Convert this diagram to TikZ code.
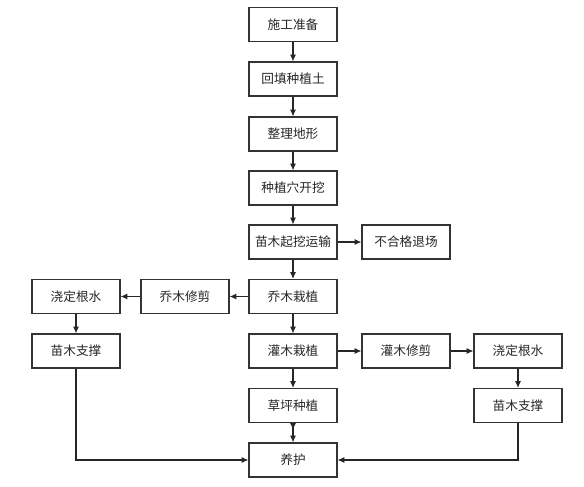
\documentclass[tikz,border=0pt]{standalone}
\usepackage{fontspec}
\setmainfont{Noto Sans CJK SC}
\usetikzlibrary{arrows.meta}

\begin{document}
\begin{tikzpicture}[x=0.75pt,y=-0.75pt,
    stepbox/.style={draw=black!80,line width=0.9pt,minimum width=66pt,minimum height=25.5pt,inner sep=0pt,font=\fontsize{9.5pt}{11pt}\selectfont,text=black!85},
    flow/.style={draw=black!85,line width=0.8pt,-{Latex[length=5pt,width=4.5pt]}}]
    \useasboundingbox (0,0) rectangle (584,486);
    \node[stepbox] (ZB) at (293,24.5) {施工准备};
    \node[stepbox] (HT) at (293,79)   {回填种植土};
    \node[stepbox] (ZL) at (293,134)  {整理地形};
    \node[stepbox] (WK) at (293,188)  {种植穴开挖};
    \node[stepbox] (QW) at (293,242)  {苗木起挖运输};
    \node[stepbox] (TC) at (406,242)  {不合格退场};
    \node[stepbox] (QZ) at (293,296.5) {乔木栽植};
    \node[stepbox] (QX) at (185,296.5) {乔木修剪};
    \node[stepbox] (LJ) at (76,296.5)  {浇定根水};
    \node[stepbox] (LZ) at (76,351)    {苗木支撑};
    \node[stepbox] (GZ) at (293,351)  {灌木栽植};
    \node[stepbox] (GX) at (406,351)  {灌木修剪};
    \node[stepbox] (RJ) at (518,351)  {浇定根水};
    \node[stepbox] (RZ) at (518,405.5) {苗木支撑};
    \node[stepbox] (CP) at (293,405.5) {草坪种植};
    \node[stepbox] (YH) at (293,460)  {养护};

    \draw [flow] (ZB) -- (HT);
    \draw [flow] (HT) -- (ZL);
    \draw [flow] (ZL) -- (WK);
    \draw [flow] (WK) -- (QW);
    \draw [flow] (QW) -- (TC);
    \draw [flow] (QW) -- (QZ);
    \draw [flow] (QZ) -- (QX);
    \draw [flow] (QX) -- (LJ);
    \draw [flow] (LJ) -- (LZ);
    \draw [flow] (QZ) -- (GZ);
    \draw [flow] (GZ) -- (GX);
    \draw [flow] (GX) -- (RJ);
    \draw [flow] (RJ) -- (RZ);
    \draw [flow] (GZ) -- (CP);
    \draw [flow,{Latex[reversed,length=5pt,width=4.5pt]}-{Latex[length=5pt,width=4.5pt]}] (CP) -- (YH);
    \draw [flow] (LZ) |- (YH);
    \draw [flow] (RZ) |- (YH);
\end{tikzpicture}
\end{document}
